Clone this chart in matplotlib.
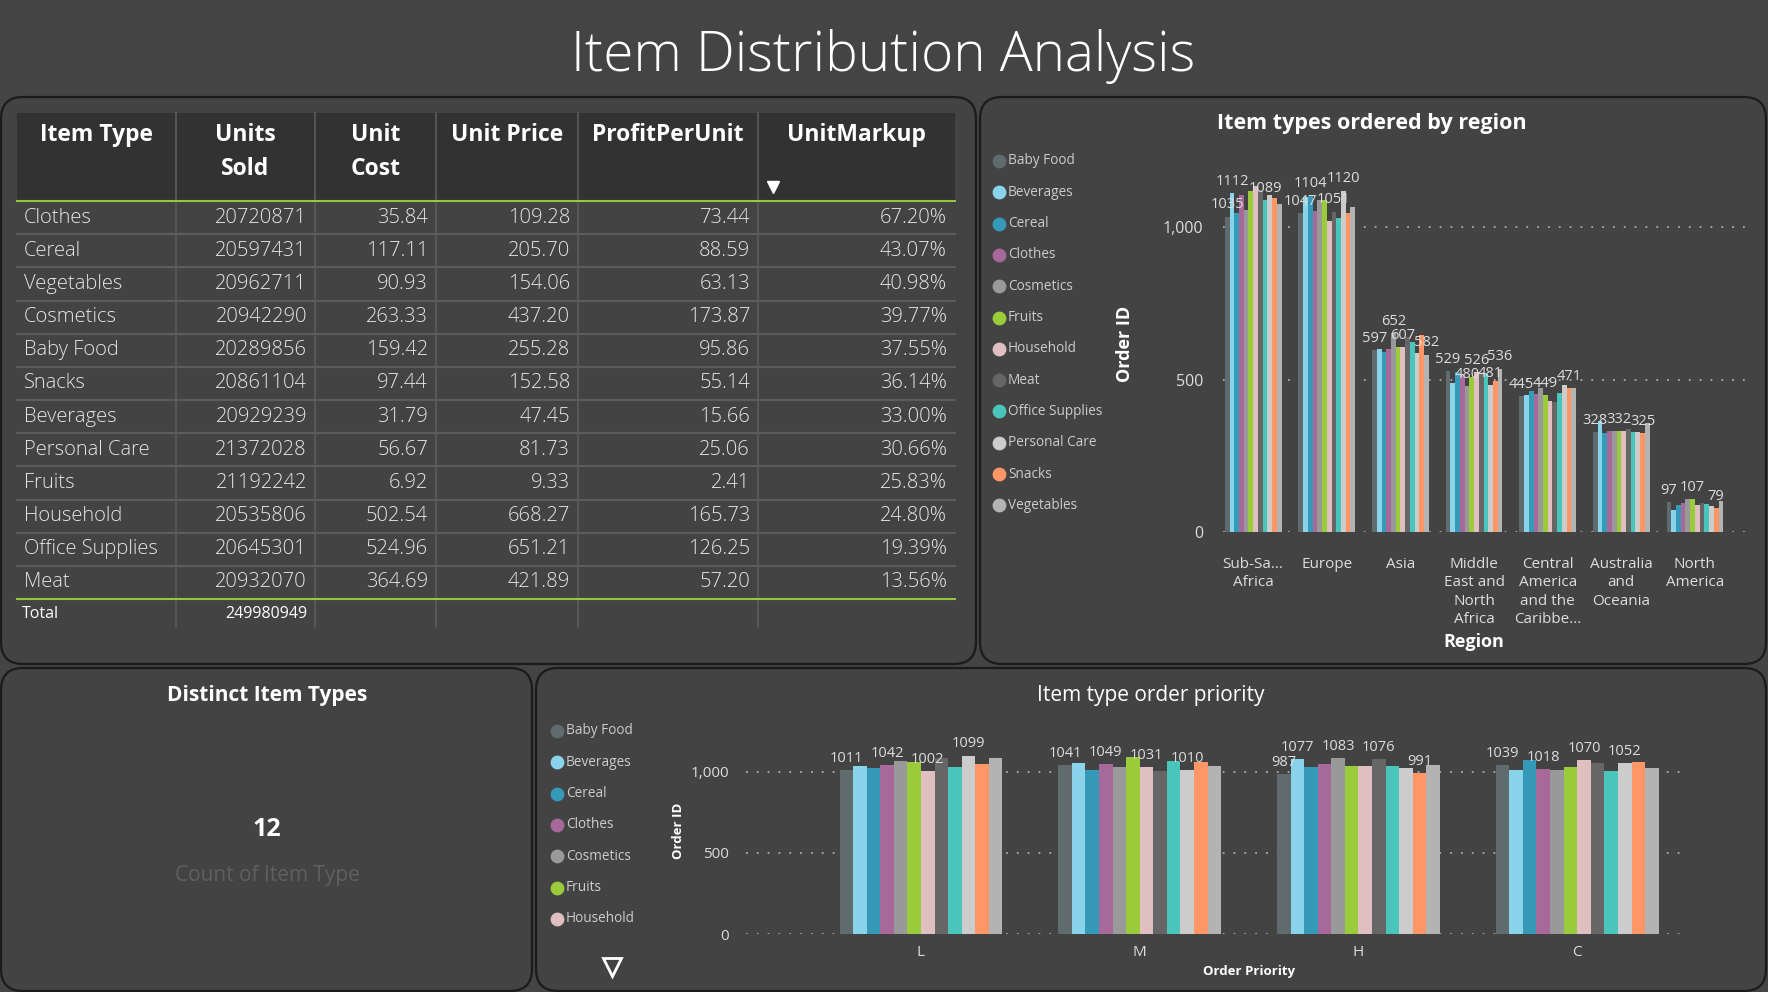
import numpy as np
import matplotlib.pyplot as plt
from matplotlib.patches import FancyBboxPatch, Rectangle

plt.rcParams['font.family'] = ['Open Sans', 'DejaVu Sans']

# data
items = ['Baby Food', 'Beverages', 'Cereal', 'Clothes', 'Cosmetics', 'Fruits',
         'Household', 'Meat', 'Office Supplies', 'Personal Care', 'Snacks', 'Vegetables']
colors = ['#5F6B6D', '#8AD4EB', '#3599B8', '#A66999', '#999999', '#9ACB3A',
          '#DFBFBF', '#666666', '#4AC5BB', '#CCCCCC', '#FE9666', '#B3B3B3']

tbl_items = ['Clothes', 'Cereal', 'Vegetables', 'Cosmetics', 'Baby Food', 'Snacks',
             'Beverages', 'Personal Care', 'Fruits', 'Household', 'Office Supplies', 'Meat']
units_sold = [20720871, 20597431, 20962711, 20942290, 20289856, 20861104,
              20929239, 21372028, 21192242, 20535806, 20645301, 20932070]
unit_cost = [35.84, 117.11, 90.93, 263.33, 159.42, 97.44, 31.79, 56.67, 6.92, 502.54, 524.96, 364.69]
unit_price = [109.28, 205.70, 154.06, 437.20, 255.28, 152.58, 47.45, 81.73, 9.33, 668.27, 651.21, 421.89]
profit_unit = [73.44, 88.59, 63.13, 173.87, 95.86, 55.14, 15.66, 25.06, 2.41, 165.73, 126.25, 57.20]
unit_markup = [67.20, 43.07, 40.98, 39.77, 37.55, 36.14, 33.00, 30.66, 25.83, 24.80, 19.39, 13.56]
units_total = 249980949

regions = ['Sub-Sa...\nAfrica', 'Europe', 'Asia', 'Middle\nEast and\nNorth\nAfrica',
           'Central\nAmerica\nand the\nCaribbe...', 'Australia\nand\nOceania', 'North\nAmerica']
# rows = regions, cols = item types
region_orders = [
    [1035, 1112, 1047, 1105, 1056, 1120, 1135, 1122, 1089, 1105, 1097, 1076],
    [1047, 1100, 1104, 1054, 1088, 1090, 1019, 1051, 1029, 1120, 1046, 1066],
    [597, 600, 591, 600, 652, 606, 607, 640, 623, 587, 646, 582],
    [529, 490, 524, 519, 480, 509, 526, 524, 518, 481, 496, 536],
    [445, 450, 462, 452, 472, 449, 431, 428, 457, 482, 471, 471],
    [328, 365, 326, 330, 332, 332, 332, 338, 329, 327, 325, 358],
    [97, 72, 90, 95, 107, 107, 89, 94, 92, 86, 79, 102],
]
region_shown = [[0, 1, 8], [0, 2, 7, 9], [0, 4, 6, 11], [0, 4, 6, 9, 11], [0, 5, 10], [0, 5, 10], [0, 5, 10]]

priorities = ['L', 'M', 'H', 'C']
priority_orders = [
    [1011, 1037, 1025, 1042, 1068, 1062, 1002, 1086, 1031, 1099, 1049, 1086],
    [1041, 1056, 1012, 1049, 1031, 1092, 1031, 1006, 1068, 1010, 1062, 1037],
    [987, 1077, 1031, 1049, 1083, 1037, 1037, 1076, 1037, 1025, 991, 1043],
    [1039, 1012, 1074, 1018, 1012, 1031, 1070, 1056, 1006, 1052, 1062, 1025],
]
priority_shown = [[0, 3, 6, 9], [0, 3, 6, 9], [0, 1, 4, 7, 10], [0, 3, 6, 9]]

W, H = 1768, 992
BG = '#444444'
PANEL = '#434343'
TXT = '#dddddd'

fig = plt.figure(figsize=(W / 100, H / 100), dpi=100)
fig.patch.set_facecolor(BG)
bg = fig.add_axes([0, 0, 1, 1])
bg.set_xlim(0, W)
bg.set_ylim(H, 0)
bg.axis('off')


def rect(x0, y0, x1, y1):
    return [x0 / W, 1 - y1 / H, (x1 - x0) / W, (y1 - y0) / H]


def panel(x0, y0, x1, y1):
    bg.add_patch(FancyBboxPatch((x0, y0), x1 - x0, y1 - y0,
                                boxstyle='round,pad=0,rounding_size=22',
                                facecolor=PANEL, edgecolor='#1b1b1b', lw=1.6))


panel(1, 97, 976, 664)
panel(980, 97, 1766, 664)
panel(1, 668, 532, 991)
panel(536, 668, 1766, 991)

bg.text(883, 56, 'Item Distribution Analysis', color='white', fontsize=39.5,
        fontweight='light', ha='center', va='center')

# ---- table ----
cols = [17, 176, 315, 436, 578, 758, 955]
bg.add_patch(Rectangle((17, 113), 938, 88, facecolor='#323232', edgecolor='none'))
heads = ['Item Type', 'Units\nSold', 'Unit\nCost', 'Unit Price', 'ProfitPerUnit', 'UnitMarkup']
for i, h in enumerate(heads):
    bg.text((cols[i] + cols[i + 1]) / 2, 123, h, color='white', fontsize=16.5, fontweight='bold',
            ha='center', va='top', linespacing=1.55)
bg.plot([773], [187], marker='v', color='white', ms=8)
for x in cols[1:-1]:
    bg.plot([x, x], [113, 627], color='#5c5c5c', lw=1.2)
row_h = (599 - 201) / len(tbl_items)
for r in range(len(tbl_items)):
    yc = 201 + row_h * (r + 0.5)
    if r > 0:
        bg.plot([17, 955], [201 + row_h * r] * 2, color='#5c5c5c', lw=1.5)
    vals = [str(units_sold[r]), f'{unit_cost[r]:.2f}', f'{unit_price[r]:.2f}',
            f'{profit_unit[r]:.2f}', f'{unit_markup[r]:.2f}%']
    bg.text(24, yc, tbl_items[r], color='#e6e6e6', fontsize=14.5, fontweight='light',
            ha='left', va='center')
    for c, v in enumerate(vals):
        bg.text(cols[c + 2] - 8, yc, v, color='#e6e6e6', fontsize=14.5, fontweight='light',
                ha='right', va='center')
bg.plot([17, 955], [201, 201], color='#93c83e', lw=1.5)
bg.plot([17, 955], [599, 599], color='#93c83e', lw=1.5)
bg.text(22, 614, 'Total', color='white', fontsize=11.5, ha='left', va='center')
bg.text(cols[2] - 8, 614, str(units_total), color='white', fontsize=11.5, ha='right', va='center')

# ---- card ----
bg.text(267, 695, 'Distinct Item Types', color='white', fontsize=15, fontweight='bold', ha='center', va='center')
bg.text(267, 829, str(len(items)), color='white', fontsize=18, fontweight='bold', ha='center', va='center')
bg.text(267, 875, 'Count of Item Type', color='#5f5f5f', fontsize=15, ha='center', va='center')


def bars(ax, data, shown, labels, gw, fs):
    n = len(items)
    w = gw / n
    x = np.arange(len(labels))
    arr = np.array(data)
    for j in range(n):
        ax.bar(x + (j - (n - 1) / 2) * w, arr[:, j], width=w, color=colors[j], zorder=2)
    for g in range(len(labels)):
        for j in shown[g]:
            ax.annotate(str(arr[g, j]), (g + (j - (n - 1) / 2) * w, arr[g, j]),
                        xytext=(0, 3), textcoords='offset points', ha='center', va='bottom',
                        color=TXT, fontsize=fs, annotation_clip=False)
    ax.set_facecolor('none')
    for s in ax.spines.values():
        s.set_visible(False)
    ax.set_yticks([0, 500, 1000], ['0', '500', '1,000'])
    ax.set_xticks(x, labels)
    ax.tick_params(length=0, colors=TXT, labelsize=fs + 0.5)
    ax.yaxis.grid(True, linestyle=(0, (1, 5)), color='#aaaaaa', lw=1.3)
    ax.set_axisbelow(True)


# ---- region chart ----
ax1 = fig.add_axes(rect(1223, 170, 1745, 532))
bars(ax1, region_orders, region_shown, regions, 0.77, 10.5)
ax1.set_ylim(0, (532 - 170) / 0.3048)
ax1.set_xlim(-0.41, 6.68)
ax1.tick_params(axis='x', pad=18)
ax1.tick_params(axis='y', pad=14, labelsize=11.5)
for t in ax1.get_xticklabels():
    t.set_linespacing(1.3)
    t.set_verticalalignment('top')
bg.text(1372, 124, 'Item types ordered by region', color='white', fontsize=15.5,
        fontweight='bold', ha='center', va='center')
bg.text(1125, 344, 'Order ID', color='white', fontsize=13, fontweight='bold', rotation=90,
        ha='center', va='center')
bg.text(1474, 642, 'Region', color='white', fontsize=13, fontweight='bold', ha='center', va='center')
for i, it in enumerate(items):
    y = 161 + 31.3 * i
    bg.scatter([999], [y], s=80, color=colors[i], zorder=3)
    bg.text(1008, y, it, color='#cccccc', fontsize=9.8, ha='left', va='center')

# ---- priority chart ----
ax2 = fig.add_axes(rect(746, 720, 1680, 934))
bars(ax2, priority_orders, priority_shown, priorities, 0.745, 10.5)
ax2.set_ylim(0, (934 - 720) / 0.1623)
ax2.set_xlim(-0.80, 3.47)
ax2.tick_params(axis='x', pad=8)
ax2.tick_params(axis='y', pad=12)
bg.text(1151, 695, 'Item type order priority', color='white', fontsize=15, ha='center', va='center')
bg.text(679, 831, 'Order ID', color='white', fontsize=9.5, fontweight='bold', rotation=90,
        ha='center', va='center')
bg.text(1249, 972, 'Order Priority', color='white', fontsize=9.5, fontweight='bold', ha='center', va='center')
for i, it in enumerate(items[:7]):
    y = 731 + 31.3 * i
    bg.scatter([557], [y], s=80, color=colors[i], zorder=3)
    bg.text(566, y, it, color='#cccccc', fontsize=9.8, ha='left', va='center')
bg.plot([612], [967], marker='v', mfc='none', mec='white', mew=2, ms=13)

fig.savefig('out.png', dpi=100, facecolor=fig.get_facecolor())
